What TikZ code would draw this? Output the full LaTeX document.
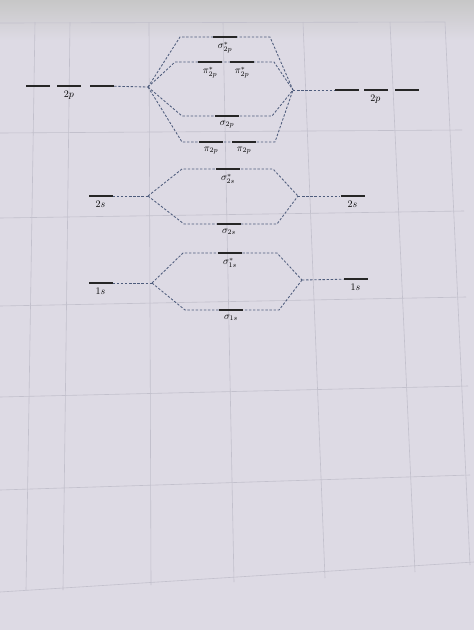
\documentclass[tikz,border=0pt]{standalone}
\usepackage{amsmath}
\usepackage{amssymb}
\usepackage{tikz}
\definecolor{paper}{RGB}{221,218,228}
\definecolor{rulegray}{RGB}{194,192,204}
\definecolor{mocol}{RGB}{78,92,124}
\tikzset{%
    lvl/.style={inner sep=0pt,minimum width=24pt,minimum height=2.2pt,fill=black!85},
    conn/.style={mocol,line width=0.85pt,dash pattern=on 2.4pt off 1.7pt},
    gridln/.style={rulegray,line width=0.6pt}
}

\begin{document}
\begin{tikzpicture}[x=1pt,y=-1pt,font=\normalsize]
            \fill[paper] (0,0) rectangle (474,630);
            \useasboundingbox (0,0) rectangle (474,630);
            \shade[top color=black!22,bottom color=paper] (0,0) rectangle (474,40);

            % sheet rules
            \draw[gridln] (0,23) -- (445,22);
            \draw[gridln] (35,22) -- (26,590);
            \draw[gridln] (70,22) -- (63,590);
            \draw[gridln] (149,22) -- (151,585);
            \draw[gridln] (223,22) -- (234,582);
            \draw[gridln] (303,22) -- (325,578);
            \draw[gridln] (390,22) -- (415,572);
            \draw[gridln] (445,22) -- (470,565);
            \draw[gridln] (0,133) -- (462,130);
            \draw[gridln] (0,218) -- (464,211);
            \draw[gridln] (0,306) -- (466,297);
            \draw[gridln] (0,397) -- (468,386);
            \draw[gridln] (0,490) -- (470,475);
            \draw[gridln] (0,592) -- (474,562);

            \coordinate (jl2p) at (148,87);
            \coordinate (jr2p) at (293,90);
            \coordinate (jl2s) at (148,196);
            \coordinate (jr2s) at (298,196);
            \coordinate (jl1s) at (152,283);
            \coordinate (jr1s) at (302,280);

            % hexagon corners
            \coordinate (a1) at (180,37);  \coordinate (a2) at (270,37);
            \coordinate (b1) at (175,62);  \coordinate (b2) at (274,62);
            \coordinate (c1) at (182,116); \coordinate (c2) at (272,116);
            \coordinate (d1) at (182,142); \coordinate (d2) at (275,142);
            \coordinate (e1) at (182,169); \coordinate (e2) at (273,169);
            \coordinate (f1) at (184,224); \coordinate (f2) at (277,224);
            \coordinate (g1) at (183,253); \coordinate (g2) at (277,253);
            \coordinate (h1) at (185,310); \coordinate (h2) at (279,310);

            \draw[conn] (jl2p) -- (a1) -- (a2) -- (jr2p);
            \draw[conn] (jl2p) -- (b1) -- (b2) -- (jr2p);
            \draw[conn] (jl2p) -- (c1) -- (c2) -- (jr2p);
            \draw[conn] (jl2p) -- (d1) -- (d2) -- (jr2p);
            \draw[conn] (jl2s) -- (e1) -- (e2) -- (jr2s);
            \draw[conn] (jl2s) -- (f1) -- (f2) -- (jr2s);
            \draw[conn] (jl1s) -- (g1) -- (g2) -- (jr1s);
            \draw[conn] (jl1s) -- (h1) -- (h2) -- (jr1s);

            % atomic levels
            \node[lvl] (lp1) at (37.5,86){};
            \node[lvl,label=below:{$2p$}] (lp2) at (69,86){};
            \node[lvl] (lp3) at (102,86){};
            \node[lvl] (rp1) at (346.5,90){};
            \node[lvl,label=below:{$2p$}] (rp2) at (375.5,90){};
            \node[lvl] (rp3) at (407,90){};
            \node[lvl,label=below:{$2s$}] (ls2) at (100.5,196){};
            \node[lvl,label=below:{$2s$}] (rs2) at (352.5,196){};
            \node[lvl,label=below:{$1s$}] (ls1) at (100.5,283){};
            \node[lvl,label=below:{$1s$}] (rs1) at (355.5,279){};

            \draw[conn] (lp3) -- (jl2p);
            \draw[conn] (jr2p) -- (rp1);
            \draw[conn] (ls2) -- (jl2s);
            \draw[conn] (jr2s) -- (rs2);
            \draw[conn] (ls1) -- (jl1s);
            \draw[conn] (jr1s) -- (rs1);

            % molecular orbitals
            \node[lvl,label=below:{$\sigma^*_{2p}$}] (ss2p) at (225,37){};
            \node[lvl,label=below:{$\pi^*_{2p}$}] (ps2pa) at (210,62){};
            \node[lvl,label=below:{$\pi^*_{2p}$}] (ps2pb) at (242,62){};
            \node[lvl,label=below:{$\sigma_{2p}$}] (s2p) at (227,116){};
            \node[lvl,label=below:{$\pi_{2p}$}] (p2pa) at (211,142){};
            \node[lvl,label=below:{$\pi_{2p}$}] (p2pb) at (244,142){};
            \node[lvl,label=below:{$\sigma^*_{2s}$}] (ss2s) at (228,169){};
            \node[lvl,label=below:{$\sigma_{2s}$}] (s2s) at (229,224){};
            \node[lvl,label=below:{$\sigma^*_{1s}$}] (ss1s) at (230,253){};
            \node[lvl,label=below:{$\sigma_{1s}$}] (s1s) at (231,310){};
        \end{tikzpicture}
\end{document}
